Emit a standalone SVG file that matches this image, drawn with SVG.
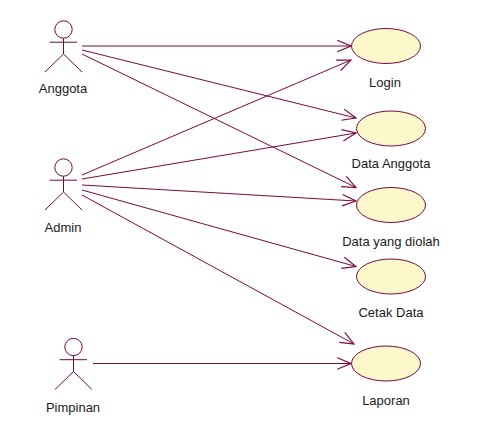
<svg xmlns="http://www.w3.org/2000/svg" width="490" height="434" viewBox="0 0 490 434">
<defs>
<style>
.a{fill:none;stroke:#6e0b38;stroke-width:1}
.u{fill:#fdf8cb;stroke:#7a0a3c;stroke-width:1}
.c{fill:none;stroke:#7a0a3c;stroke-width:1}
text{font-family:"Liberation Sans",Arial,sans-serif;font-size:13px;fill:#1a1a1a;text-anchor:middle}
</style>
<marker id="arrow" markerUnits="userSpaceOnUse" markerWidth="16" markerHeight="14" refX="13" refY="6" orient="auto" viewBox="0 0 14 12">
<path d="M1 1L13 6L1 11" fill="none" stroke="#7a0a3c" stroke-width="1"/>
</marker>
<g id="stick"><circle cx="0" cy="0" r="8.7" class="a"/><path d="M-14 12.7H13.500M0 8.700V24.500M-18.500 42.500L0 24.500L18.500 42.500" class="a"/></g>
</defs>
<rect width="490" height="434" fill="#fff"/>
<g id="connectors" class="c">
<line x1="82" y1="46" x2="351" y2="46" marker-end="url(#arrow)"/>
<line x1="82" y1="50" x2="356" y2="118" marker-end="url(#arrow)"/>
<line x1="82" y1="54" x2="356" y2="187.500" marker-end="url(#arrow)"/>
<line x1="82" y1="175" x2="351" y2="60" marker-end="url(#arrow)"/>
<line x1="82" y1="179" x2="356" y2="133" marker-end="url(#arrow)"/>
<line x1="82" y1="185" x2="356" y2="201" marker-end="url(#arrow)"/>
<line x1="82" y1="190" x2="356" y2="266.500" marker-end="url(#arrow)"/>
<line x1="82" y1="195" x2="354" y2="344" marker-end="url(#arrow)"/>
<line x1="93" y1="363.500" x2="351" y2="363.500" marker-end="url(#arrow)"/>
</g>
<g id="actor-anggota"><use href="#stick" x="63.500" y="29.500"/><text x="63" y="93">Anggota</text></g>
<g id="actor-admin"><use href="#stick" x="63.500" y="167.500"/><text x="63" y="232">Admin</text></g>
<g id="actor-pimpinan"><use href="#stick" x="73.500" y="347"/><text x="73" y="412">Pimpinan</text></g>
<g id="uc-login"><ellipse cx="386" cy="46" rx="34.500" ry="17.500" class="u"/><text x="385" y="87">Login</text></g>
<g id="uc-data-anggota"><ellipse cx="391" cy="128.500" rx="34.500" ry="17.500" class="u"/><text x="391" y="168">Data Anggota</text></g>
<g id="uc-data-diolah"><ellipse cx="391" cy="205" rx="34.500" ry="17.500" class="u"/><text x="391" y="246">Data yang diolah</text></g>
<g id="uc-cetak"><ellipse cx="391" cy="276.500" rx="34.500" ry="17.500" class="u"/><text x="391" y="317">Cetak Data</text></g>
<g id="uc-laporan"><ellipse cx="386" cy="363.500" rx="34.500" ry="17.500" class="u"/><text x="386" y="405">Laporan</text></g>
</svg>
